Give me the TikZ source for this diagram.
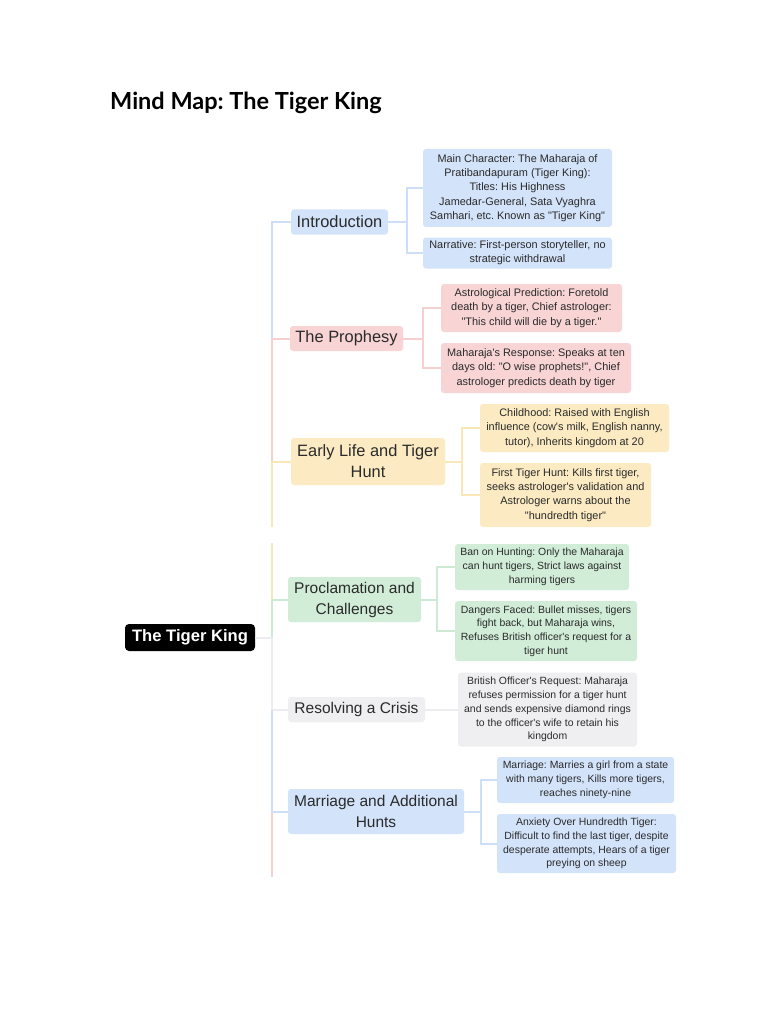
\documentclass[tikz,border=0pt]{standalone}
\usepackage{fontspec}
\setmainfont{Liberation Sans}
\newfontfamily\bodyfont{Liberation Sans}
\newfontfamily\titlefont{Lato}
\frenchspacing
\definecolor{txt}{HTML}{2A2A2A}
\definecolor{bluef}{HTML}{D3E3FA}
\definecolor{bluel}{HTML}{CCDEF8}
\definecolor{pinkf}{HTML}{F8D4D4}
\definecolor{pinkl}{HTML}{F6D0D0}
\definecolor{yelf}{HTML}{FCEBC2}
\definecolor{yell}{HTML}{FAE7B6}
\definecolor{greenf}{HTML}{D1EDD8}
\definecolor{greenl}{HTML}{CDEAD5}
\definecolor{grayf}{HTML}{EFEFF1}
\definecolor{grayl}{HTML}{ECECEE}
\tikzset{
  box/.style={rounded corners=3pt, inner sep=0pt, align=center, text=txt},
  branchup/.style={box, font=\bodyfont\frenchspacing\fontsize{16.4}{21}\selectfont},
  branchlow/.style={box, font=\bodyfont\frenchspacing\fontsize{15.5}{21}\selectfont},
  leafup/.style={box, font=\bodyfont\frenchspacing\fontsize{10.9}{14.2}\selectfont},
  leaflow/.style={box, font=\bodyfont\frenchspacing\fontsize{10.45}{13.8}\selectfont},
  link/.style={line width=2pt},
}
\begin{document}
\begin{tikzpicture}[x=1pt,y=-1pt]
\useasboundingbox[fill=white] (0,0) rectangle (768,1024);

% title
\node[anchor=base west, inner sep=0pt, font=\titlefont\bfseries\fontsize{23.5}{28}\selectfont, text=black] (title) at (110,110) {Mind Map: The Tiger King};

% spine coordinates
\coordinate (sI) at (272,222);
\coordinate (sP) at (272,338.5);
\coordinate (sE) at (272,461.5);
\coordinate (sEend) at (272,527);
\coordinate (sLtop) at (272,543);
\coordinate (sPr) at (272,599.5);
\coordinate (sR) at (272,637.5);
\coordinate (sRes) at (272,709.5);
\coordinate (sM) at (272,811.5);
\coordinate (sBot) at (272,877);

% bracket coordinates
\coordinate (ibr) at (407,222);
\coordinate (pbr) at (423,338.5);
\coordinate (ebr) at (462,461.5);
\coordinate (prbr) at (437,599.5);
\coordinate (mbr) at (481,811.5);

% root
\node[box, fill=black, text=white, font=\bodyfont\bfseries\fontsize{16.6}{20}\selectfont, rounded corners=4pt, minimum width=130pt, minimum height=27pt] (root) at (190,637.5) {The Tiger King};

% branches
\node[branchup, fill=bluef, minimum width=97pt, minimum height=25pt] (intro) at (339.5,222) {Introduction};
\node[branchup, fill=pinkf, minimum width=113pt, minimum height=25pt] (proph) at (346.5,338.5) {The Prophesy};
\node[branchup, fill=yelf, minimum width=154pt, minimum height=47pt] (early) at (368,461.5) {Early Life and Tiger\\Hunt};
\node[branchlow, fill=greenf, minimum width=133pt, minimum height=45pt] (procl) at (354.5,599.5) {Proclamation and\\Challenges};
\node[branchlow, fill=grayf, minimum width=137pt, minimum height=25pt] (resolve) at (356.5,709.5) {Resolving a Crisis};
\node[branchlow, fill=bluef, minimum width=176pt, minimum height=45pt] (marr) at (376,811.5) {Marriage and Additional\\Hunts};

% leaves
\node[leafup, fill=bluef, minimum width=189pt, minimum height=78pt] (ic1) at (517.5,188) {Main Character: The Maharaja of\\Pratibandapuram (Tiger King):\\Titles: His Highness\\Jamedar-General, Sata Vyaghra\\Samhari, etc. Known as "Tiger King"};
\node[leafup, fill=bluef, minimum width=189pt, minimum height=31pt] (ic2) at (517.5,253) {Narrative: First-person storyteller, no\\strategic withdrawal};

\node[leafup, fill=pinkf, minimum width=181pt, minimum height=48pt] (pc1) at (531.5,308) {Astrological Prediction: Foretold\\death by a tiger, Chief astrologer:\\"This child will die by a tiger."};
\node[leafup, fill=pinkf, minimum width=190pt, minimum height=50pt] (pc2) at (536,368) {Maharaja's Response: Speaks at ten\\days old: "O wise prophets!", Chief\\astrologer predicts death by tiger};

\node[leafup, fill=yelf, minimum width=189pt, minimum height=48pt] (ec1) at (574.5,428) {Childhood: Raised with English\\influence (cow's milk, English nanny,\\tutor), Inherits kingdom at 20};
\node[leafup, fill=yelf, minimum width=171pt, minimum height=64pt] (ec2) at (565.5,495) {First Tiger Hunt: Kills first tiger,\\seeks astrologer's validation and\\Astrologer warns about the\\"hundredth tiger"};

\node[leaflow, fill=greenf, minimum width=174pt, minimum height=46pt] (prc1) at (542,567) {Ban on Hunting: Only the Maharaja\\can hunt tigers, Strict laws against\\harming tigers};
\node[leaflow, fill=greenf, minimum width=182pt, minimum height=60pt] (prc2) at (546,631) {Dangers Faced: Bullet misses, tigers\\fight back, but Maharaja wins,\\Refuses British officer's request for a\\tiger hunt};

\node[leaflow, fill=grayf, minimum width=179pt, minimum height=74pt] (rc) at (547.5,709.5) {British Officer's Request: Maharaja\\refuses permission for a tiger hunt\\and sends expensive diamond rings\\to the officer's wife to retain his\\kingdom};

\node[leaflow, fill=bluef, minimum width=177pt, minimum height=46pt] (mc1) at (585.5,780) {Marriage: Marries a girl from a state\\with many tigers, Kills more tigers,\\reaches ninety-nine};
\node[leaflow, fill=bluef, minimum width=179pt, minimum height=59pt] (mc2) at (586.5,843.5) {Anxiety Over Hundredth Tiger:\\Difficult to find the last tiger, despite\\desperate attempts, Hears of a tiger\\preying on sheep};

% spine and branch connectors
\draw[link, draw=bluel] (intro.west) -- (sI) -- (sP);
\draw[link, draw=pinkl] (proph.west) -- (sP) -- (sE);
\draw[link, draw=yell] (early.west) -- (sE) -- (sEend);
\draw[link, draw=yell] (sLtop) -- (sPr);
\draw[link, draw=greenl] (procl.west) -- (sPr) -- (sR);
\draw[link, draw=grayl] (root.east) -- (sR) -- (sRes) -- (resolve.west);
\draw[link, draw=bluel] (sRes) -- (sM) -- (marr.west);
\draw[link, draw=pinkl] (sM) -- (sBot);

% leaf connectors
\draw[link, draw=bluel] (intro.east) -- (ibr);
\draw[link, draw=bluel] (ic1.west) -| (ibr) |- (ic2.west);
\draw[link, draw=pinkl] (proph.east) -- (pbr);
\draw[link, draw=pinkl] (pc1.west) -| (pbr) |- (pc2.west);
\draw[link, draw=yell] (early.east) -- (ebr);
\draw[link, draw=yell] (ec1.west) -| (ebr) |- (ec2.west);
\draw[link, draw=greenl] (procl.east) -- (prbr);
\draw[link, draw=greenl] (prc1.west) -| (prbr) |- (prc2.west);
\draw[link, draw=grayl] (resolve.east) -- (rc.west);
\draw[link, draw=bluel] (marr.east) -- (mbr);
\draw[link, draw=bluel] (mc1.west) -| (mbr) |- (mc2.west);
\end{tikzpicture}
\end{document}
